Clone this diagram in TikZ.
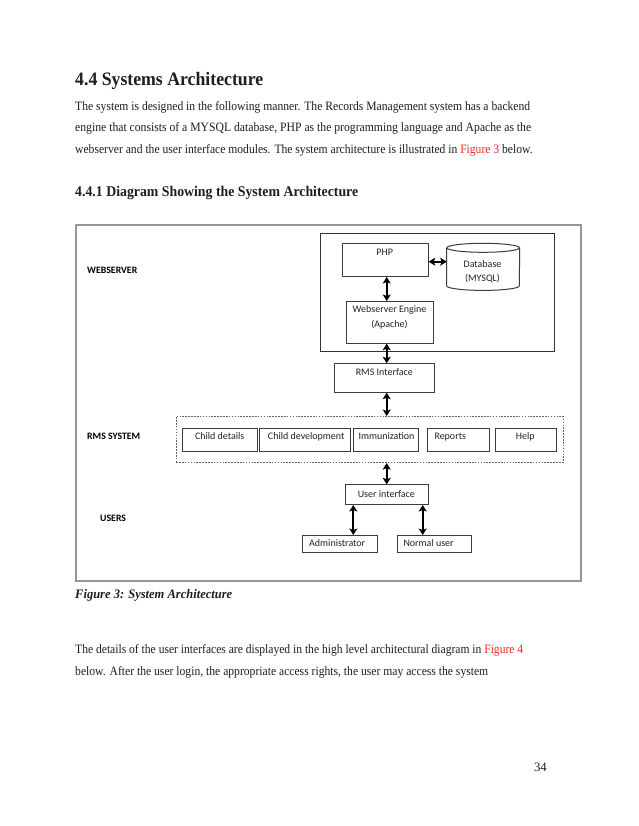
\documentclass[tikz,border=0pt]{standalone}
\usepackage{fontspec}
\setmainfont{Liberation Serif}
\newfontfamily\dfont{Carlito}
\usepackage{graphicx}
\usetikzlibrary{arrows.meta,calc}
\definecolor{linkred}{RGB}{232,40,40}
\definecolor{txt}{RGB}{30,30,30}
\definecolor{framec}{RGB}{150,150,150}
\definecolor{boxc}{RGB}{60,60,60}
\definecolor{dtxt}{RGB}{35,35,35}
\newcommand{\fitw}[2]{\resizebox{#1}{\height}{#2}}
\tikzset{
  body/.style={inner sep=0pt, text=txt, anchor=base west, font=\fontsize{12.8}{15}\selectfont},
  dbox/.style={draw=boxc, line width=1pt, fill=white, inner sep=0pt, anchor=north west},
  dtext/.style={inner sep=0pt, text=dtxt, anchor=base, font=\dfont\fontsize{10}{12}\selectfont},
  tier/.style={inner sep=0pt, text=black, anchor=base west, font=\dfont\bfseries\fontsize{9.8}{12}\selectfont},
  biarrow/.style={{Stealth[length=6.5pt,width=8pt,inset=1.5pt]}-{Stealth[length=6.5pt,width=8pt,inset=1.5pt]}, line width=2.2pt, black}
}
\begin{document}
\begin{tikzpicture}[x=1pt,y=-1pt]
\useasboundingbox (0,0) rectangle (638,826);
\fill[white] (0,0) rectangle (638,826);

% page text
\node[body] (title) at (75,85.5) {\fitw{188pt}{\fontsize{19}{24}\selectfont\bfseries 4.4 Systems Architecture}};
\node[body] (p1) at (75,110.7) {\fitw{455pt}{The system is designed in the following manner. The Records Management system has a backend}};
\node[body] (p2) at (75,131.7) {\fitw{456pt}{engine that consists of a MYSQL database, PHP as the programming language and Apache as the}};
\node[body] (p3) at (75,153.3) {\fitw{457.5pt}{webserver and the user interface modules. The system architecture is illustrated in \textcolor{linkred}{Figure 3} below.}};
\node[body] (h2) at (75,196.5) {\fitw{283pt}{\fontsize{14.8}{18}\selectfont\bfseries 4.4.1 Diagram Showing the System Architecture}};

% diagram frame
\node[draw=framec, line width=1.6pt, inner sep=0pt, anchor=north west, minimum width=505pt, minimum height=356pt] (outer) at (75,224) {};

% webserver group
\node[dbox, draw=black!80, line width=1.1pt, minimum width=234.3pt, minimum height=117.7pt] (web) at (320,233.3) {};
\node[dbox, minimum width=86pt, minimum height=32.7pt] (php) at (341.7,243.3) {};
\node[inner sep=0pt, anchor=north west, minimum width=72.6pt, minimum height=46.7pt] (db) at (446.7,243.3) {};
\draw[boxc, line width=1pt, fill=white] ($(db.north west)+(0,4.5)$) -- ($(db.south west)+(0,-4.5)$)
  arc[start angle=180, end angle=0, x radius=36.3, y radius=4.5] -- ($(db.north east)+(0,4.5)$);
\draw[boxc, line width=1pt, fill=white] ($(db.north)+(0,4.5)$) ellipse [x radius=36.3, y radius=4.5];
\node[dbox, minimum width=87.6pt, minimum height=41.7pt] (eng) at (345.7,301) {};
\node[dbox, minimum width=100pt, minimum height=28.4pt] (rms) at (334.3,363.3) {};

\node[dtext] (phpt) at (384.7,255) {PHP};
\node[dtext] (dbt1) at (482.5,267.3) {Database};
\node[dtext] (dbt2) at (482.5,281) {(MYSQL)};
\node[dtext] (engt1) at (389.5,312.6) {Webserver Engine};
\node[dtext] (engt2) at (389.5,327.3) {(Apache)};
\node[dtext] (rmst) at (384.3,375.6) {RMS Interface};

% RMS system modules
\node[draw=boxc!80, line width=0.8pt, dash pattern=on 1.6pt off 1.3pt, inner sep=0pt, anchor=north west, minimum width=386.8pt, minimum height=46.3pt] (dash) at (175.7,416) {};
\node[dbox, minimum width=75pt, minimum height=23pt] (m1) at (182.3,427.7) {};
\node[dbox, minimum width=91pt, minimum height=23pt] (m2) at (259.3,427.7) {};
\node[dbox, minimum width=64.7pt, minimum height=23pt] (m3) at (353,427.7) {};
\node[dbox, minimum width=62pt, minimum height=23pt] (m4) at (427.3,427.7) {};
\node[dbox, minimum width=61pt, minimum height=23pt] (m5) at (495,427.7) {};
\node[dtext] (m1t) at (219.7,439.3) {Child details};
\node[dtext] (m2t) at (306.2,439.3) {Child development};
\node[dtext] (m3t) at (386.5,439.3) {Immunization};
\node[dtext, anchor=base west] (m4t) at (434.3,439.3) {Reports};
\node[dtext] (m5t) at (525.3,439.3) {Help};

% users
\node[dbox, minimum width=82.7pt, minimum height=19.7pt] (ui) at (345,484.3) {};
\node[dbox, minimum width=74.4pt, minimum height=17.3pt] (adm) at (302.3,535) {};
\node[dbox, minimum width=74.3pt, minimum height=17.3pt] (nu) at (396.7,535) {};
\node[dtext] (uit) at (386.3,497.5) {User interface};
\node[dtext, anchor=base west] (admt) at (309,546.3) {Administrator};
\node[dtext, anchor=base west] (nut) at (403.3,546.3) {Normal user};

% tier labels
\node[tier] (lweb) at (87,273.3) {WEBSERVER};
\node[tier] (lrms) at (87,439.6) {RMS SYSTEM};
\node[tier] (lusr) at (100,521.8) {USERS};

% connectors
\coordinate (ax) at (386.7,0);
\coordinate (a1) at (353.3,0);
\coordinate (a2) at (422.7,0);
\coordinate (ay) at (0,261.7);
\draw[biarrow] (php.east |- ay) -- (db.west |- ay);
\draw[biarrow] (php.south -| ax) -- (eng.north -| ax);
\draw[biarrow] (eng.south -| ax) -- (rms.north -| ax);
\draw[biarrow] (rms.south -| ax) -- (dash.north -| ax);
\draw[biarrow] (dash.south -| ax) -- (ui.north -| ax);
\draw[biarrow] (ui.south -| a1) -- (adm.north -| a1);
\draw[biarrow] (ui.south -| a2) -- (nu.north -| a2);

% caption and following text
\node[body] (cap) at (75,598) {\fitw{157pt}{\fontsize{13}{15}\selectfont\bfseries\itshape Figure 3: System Architecture}};
\node[body] (q1) at (75,653) {\fitw{448pt}{The details of the user interfaces are displayed in the high level architectural diagram in \textcolor{linkred}{Figure 4}}};
\node[body] (q2) at (75,675) {\fitw{413pt}{below. After the user login, the appropriate access rights, the user may access the system}};
\node[body, anchor=base east] (pg) at (547,771) {34};
\end{tikzpicture}
\end{document}
